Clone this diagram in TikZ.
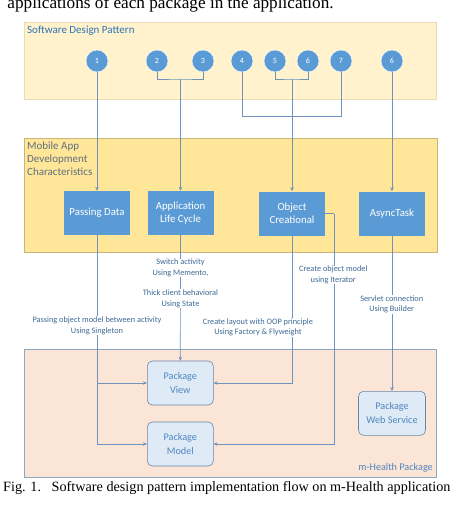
\documentclass[tikz,border=0pt]{standalone}
\usepackage{fontspec}
\setmainfont{Carlito}
\newfontfamily\capfont{Liberation Serif}
\usetikzlibrary{arrows.meta}
\definecolor{bandA}{HTML}{FFF2CC}
\definecolor{bandAline}{HTML}{E8DCB0}
\definecolor{bandB}{HTML}{FFE699}
\definecolor{bandBline}{HTML}{C9B57A}
\definecolor{bandC}{HTML}{FBE5D6}
\definecolor{bandCline}{HTML}{8FA7C0}
\definecolor{boxblue}{HTML}{5B9BD5}
\definecolor{pkgfill}{HTML}{DEEBF7}
\definecolor{pkgline}{HTML}{6C87A6}
\definecolor{pkgtext}{HTML}{4F86BF}
\definecolor{conn}{HTML}{6F93BD}
\definecolor{lbl}{HTML}{3E6A96}
\definecolor{titleA}{HTML}{2E75B6}
\definecolor{titleB}{HTML}{5E6F7E}
\tikzset{
  band/.style={line width=0.6pt},
  num/.style={circle, fill=boxblue, draw=white, line width=0.4pt, minimum size=22pt, inner sep=0pt, text=white, font=\fontsize{8}{9}\selectfont},
  charbox/.style={rectangle, fill=boxblue, draw=none, minimum width=66pt, minimum height=44pt, inner sep=1pt, text=white, align=center, font=\fontsize{10.8}{13}\selectfont},
  pkgbox/.style={rectangle, rounded corners=5pt, fill=pkgfill, draw=pkgline, line width=0.6pt, minimum width=66pt, minimum height=44pt, inner sep=1pt, text=pkgtext, align=center, font=\fontsize{10.2}{13.7}\selectfont},
  conn/.style={draw=conn, line width=0.7pt},
  arr/.style={conn, -{Stealth[length=4pt,width=3.5pt]}},
  lab/.style={fill=white, inner sep=0.5pt, text=lbl, align=center, font=\fontsize{8.3}{10.5}\selectfont},
}
\begin{document}
\begin{tikzpicture}[x=1pt,y=-1pt]
\useasboundingbox (0,0) rectangle (474,509);
\clip (0,0) rectangle (474,509);
% page text
\node[anchor=base west, inner sep=0pt, font=\capfont\fontsize{17.2}{19}\selectfont] (toptext) at (7.3,8.3) {applications of each package in the application.};
\node[anchor=base west, inner sep=0pt, font=\capfont\fontsize{14.2}{16}\selectfont] (caption) at (3,491) {Fig. 1.\hspace{0.75em}Software design pattern implementation flow on m-Health application};
% bands
\filldraw[band, fill=bandA, draw=bandAline] (24,22) rectangle (436,99);
\filldraw[band, fill=bandB, draw=bandBline] (24,138) rectangle (437,252);
\filldraw[band, fill=bandC, draw=bandCline] (24,349) rectangle (436,477);
\node[anchor=west, inner sep=0pt, text=titleA, font=\fontsize{11}{13}\selectfont] (tA) at (27,31) {Software Design Pattern};
\node[anchor=north west, inner sep=0pt, text=titleB, align=left, font=\fontsize{11}{13.2}\selectfont] (tB) at (27,141.5) {Mobile App\\Development\\Characteristics};
\node[anchor=east, inner sep=0pt, text=pkgtext, font=\fontsize{10.2}{12}\selectfont] (tC) at (433,468) {m-Health Package};
% circles
\node[num] (c1) at (97,61) {1};
\node[num] (c2) at (157,61) {2};
\node[num] (c3) at (203,61) {3};
\node[num] (c4) at (242,61) {4};
\node[num] (c5) at (275,61) {5};
\node[num] (c6) at (308,61) {6};
\node[num] (c7) at (341,61) {7};
\node[num] (c6b) at (392,61) {6};
% characteristic boxes
\node[charbox] (pd) at (97,213) {Passing Data};
\node[charbox] (alc) at (180.5,213) {Application\\Life Cycle};
\node[charbox] (oc) at (292,213.5) {Object\\Creational};
\node[charbox] (at) at (392,213.5) {AsyncTask};
% packages
\node[pkgbox] (pv) at (180.3,383) {Package\\View};
\node[pkgbox] (pm) at (180.3,444) {Package\\Model};
\node[pkgbox, minimum width=67pt] (ws) at (392,413.3) {Package\\Web Service};
% junctions
\coordinate (j23) at (180.5,79);
\coordinate (j56) at (292,79);
\coordinate (j47) at (341,116);
\coordinate (oe) at (334,213.5);
\coordinate (pdv) at (97,383);
% connectors top
\draw[arr] (c1) -- (pd.north);
\draw[conn] (c2) |- (j23) -| (c3);
\draw[arr] (j23) -- (alc.north);
\draw[conn] (c5) |- (j56) -| (c6);
\draw[conn] (c4) |- (j47) -- (c7);
\draw[arr] (j56) -- (oc.north);
\draw[arr] (c6b) -- (at.north);
% connectors bottom
\draw[arr] (pd.south) |- (pm.west);
\draw[arr] (pdv) -- (pv.west);
\draw[arr] (alc.south) -- (pv.north);
\draw[arr] (oc.south) |- (pv.east);
\draw[conn] (oc.east) -- (oe);
\draw[arr] (oe) |- (pm.east);
\draw[arr] (at.south) -- (ws.north);
% labels
\node[lab] (l1) at (180.5,268) {Switch activity\\Using Memento,};
\node[lab] (l2) at (180.5,298.7) {Thick client behavioral\\Using State};
\node[lab] (l3) at (97,325.7) {Passing object model between activity\\Using Singleton};
\node[lab] (l4) at (258,327.5) {Create layout with OOP principle\\Using Factory \& Flyweight};
\node[lab] (l5) at (333.3,275) {Create object model\\using Iterator};
\node[lab] (l6) at (391.7,304.5) {Servlet connection\\Using Builder};
\end{tikzpicture}
\end{document}
